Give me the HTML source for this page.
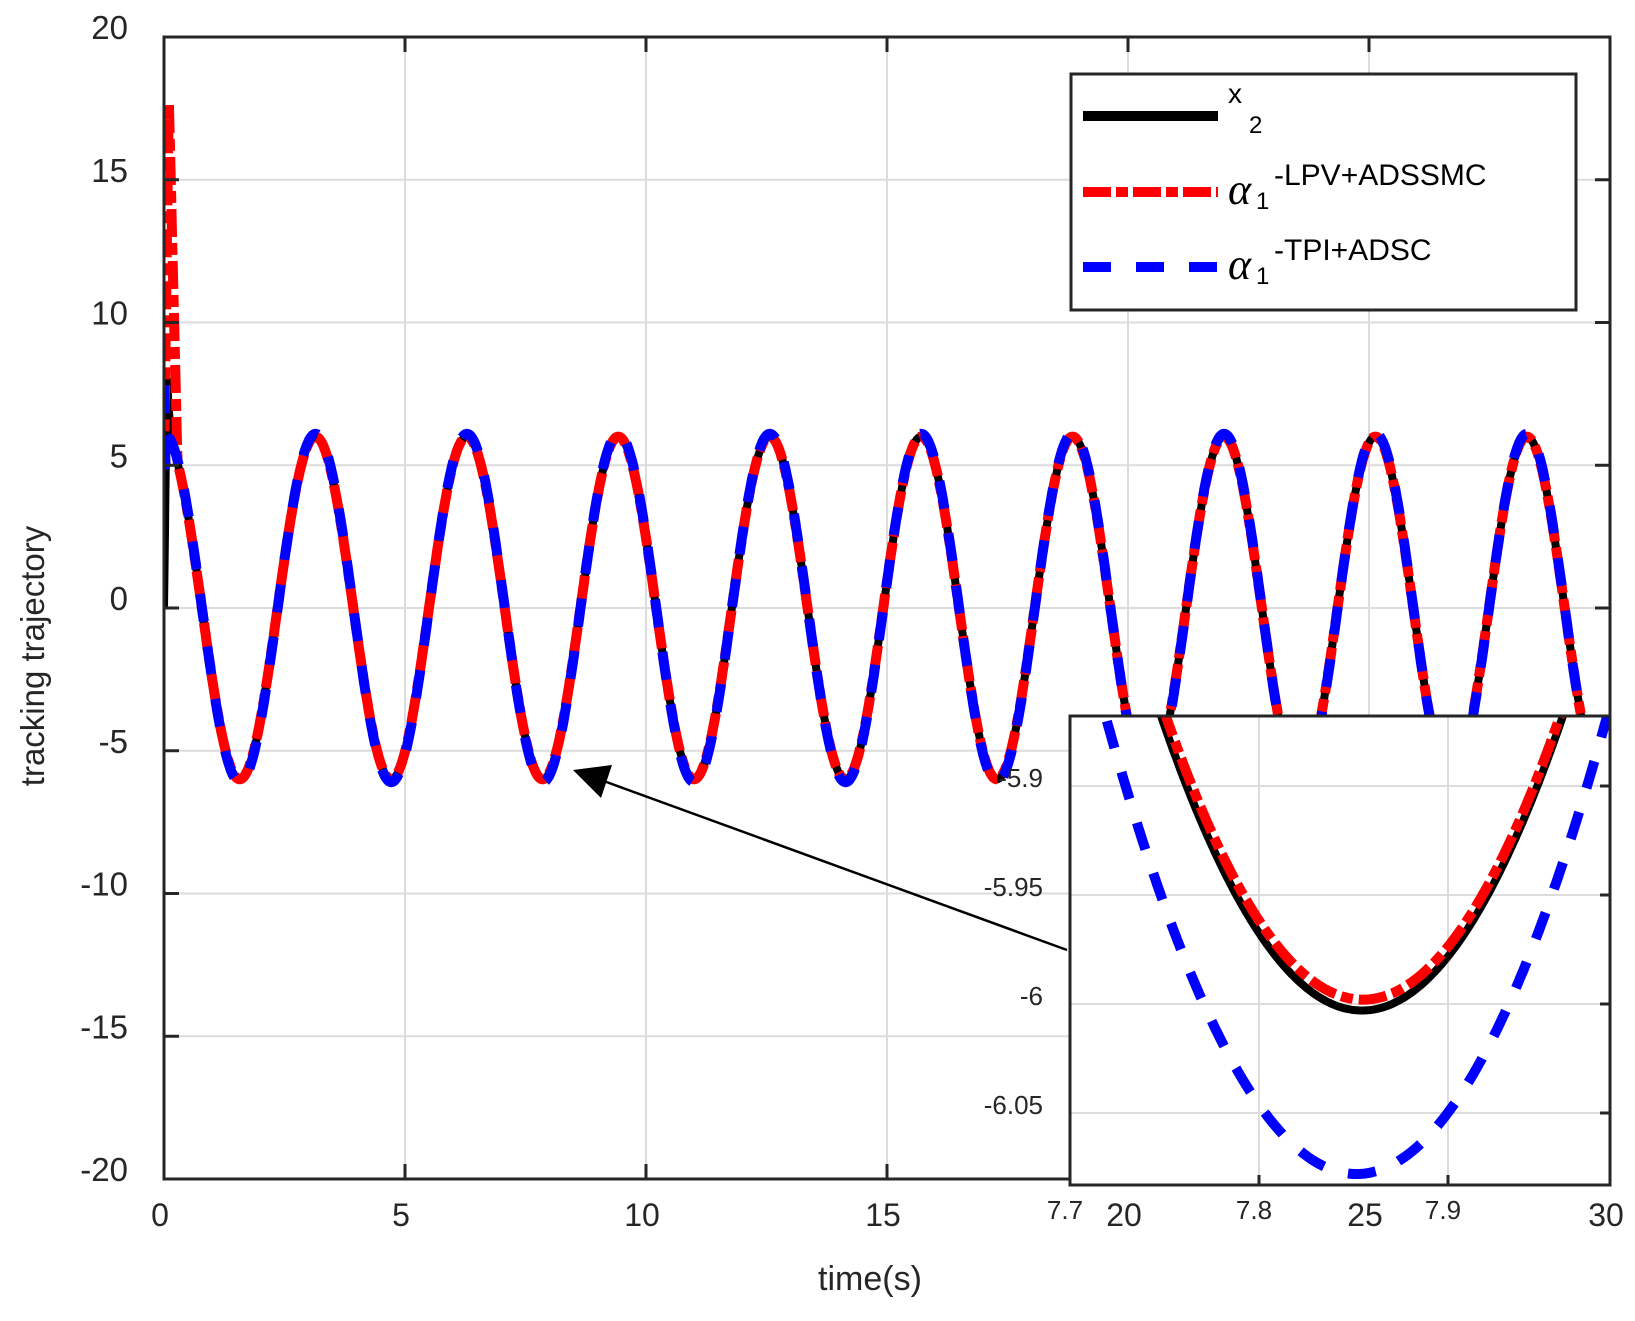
<!DOCTYPE html>
<html><head><meta charset="utf-8"><style>
html,body{margin:0;padding:0;background:#fff;}
svg text{font-family:"Liberation Sans",Arial,sans-serif;fill:#262626;}
</style></head><body>
<svg id="s" width="1635" height="1316" xmlns="http://www.w3.org/2000/svg">
<defs>
<clipPath id="cm"><rect x="164" y="37" width="1446" height="1142"/></clipPath>
<clipPath id="ci"><rect x="1070" y="716" width="540" height="469"/></clipPath>
</defs>
<rect width="1635" height="1316" fill="#fff"/>
<g id="main"></g>
<g id="inset"></g>
</svg>
<script>
const NS="http://www.w3.org/2000/svg";
function el(p,tag,a,txt){const e=document.createElementNS(NS,tag);for(const k in a)e.setAttribute(k,a[k]);if(txt!==undefined)e.textContent=txt;p.appendChild(e);return e;}
const M=document.getElementById('main'),I=document.getElementById('inset');
const L=164,R=1610,T=37,B=1179;
const X=t=>L+(R-L)*t/30, Y=v=>608-28.55*v;
for(let t=5;t<30;t+=5)el(M,'line',{x1:X(t),x2:X(t),y1:T,y2:B,stroke:'#dcdcdc','stroke-width':2});
for(let v=-15;v<20;v+=5)el(M,'line',{x1:L,x2:R,y1:Y(v),y2:Y(v),stroke:'#dcdcdc','stroke-width':2});
function path(f,t0,t1,n){let d='';for(let i=0;i<=n;i++){const t=t0+(t1-t0)*i/n;d+=(i?'L':'M')+X(t).toFixed(1)+','+Y(f(t)).toFixed(1);}return d;}
function blk(t){if(t<0.06)return 8*t/0.06; if(t<0.15)return 8-(8-6*Math.cos(0.3))*(t-0.06)/0.09; return 6*Math.cos(2*t);}
function red(t){if(t<0.1)return 5+12.8*t/0.1; if(t<0.28)return 17.8-(17.8-6*Math.cos(0.56))*(t-0.1)/0.18; return 6*Math.cos(2*t)+0.002;}
function blu(t){if(t<0.03)return 7.8-2.8*t/0.03; if(t<0.12)return 5+ (6.1*Math.cos(0.24)-5)*(t-0.03)/0.09; return 6.1*Math.cos(2*t-0.005);}
const gM=el(M,'g',{'clip-path':'url(#cm)',fill:'none','stroke-linejoin':'round'});
el(gM,'path',{d:path(blk,0,30,3000),stroke:'#000','stroke-width':8});
el(gM,'path',{d:path(red,0,30.5,3000),stroke:'#ff0000','stroke-width':10,'stroke-dasharray':'28 6 12 6'});
el(gM,'path',{d:path(blu,0,30.5,3000),stroke:'#0000ff','stroke-width':10,'stroke-dasharray':'28 25'});
el(M,'rect',{x:L,y:T,width:R-L,height:B-T,fill:'none',stroke:'#262626','stroke-width':3});
for(let t=0;t<=30;t+=5){el(M,'line',{x1:X(t),x2:X(t),y1:B,y2:B-15,stroke:'#262626','stroke-width':3});el(M,'line',{x1:X(t),x2:X(t),y1:T,y2:T+15,stroke:'#262626','stroke-width':3});
 el(M,'text',{x:X(t)-4,y:1226,'font-size':32,'text-anchor':'middle'},String(t));}
for(let v=-20;v<=20;v+=5){el(M,'line',{x1:L,x2:L+15,y1:Y(v),y2:Y(v),stroke:'#262626','stroke-width':3});el(M,'line',{x1:R,x2:R-15,y1:Y(v),y2:Y(v),stroke:'#262626','stroke-width':3});
 el(M,'text',{x:128,y:Y(v)+2,'font-size':33,'text-anchor':'end'},String(v));}
el(M,'text',{x:870,y:1290,'font-size':34,'text-anchor':'middle'},'time(s)');
el(M,'text',{x:0,y:0,'font-size':33,'text-anchor':'middle',transform:'translate(44,656) rotate(-90)'},'tracking trajectory');
el(M,'rect',{x:1071,y:74,width:505,height:236,fill:'#fff',stroke:'#262626','stroke-width':3});
el(M,'line',{x1:1083,x2:1218,y1:116,y2:116,stroke:'#000','stroke-width':10});
el(M,'line',{x1:1083,x2:1218,y1:192,y2:192,stroke:'#ff0000','stroke-width':10,'stroke-dasharray':'28 5 12 5'});
el(M,'line',{x1:1083,x2:1218,y1:267,y2:267,stroke:'#0000ff','stroke-width':10,'stroke-dasharray':'28 25'});
el(M,'text',{x:1228,y:103,'font-size':28,style:'fill:#000'},'x');
el(M,'text',{x:1249,y:133,'font-size':24,style:'fill:#000'},'2');
for(const [y,lab] of [[192,'-LPV+ADSSMC'],[267,'-TPI+ADSC']]){
 el(M,'text',{x:1228,y:y+12,'font-size':44,'font-style':'italic',style:'font-family:"Liberation Serif",serif;fill:#000'},'α');
 el(M,'text',{x:1256,y:y+17,'font-size':24,style:'fill:#000'},'1');
 el(M,'text',{x:1274,y:y-7,'font-size':30,style:'fill:#000'},lab);}
el(M,'line',{x1:1067,x2:590,y1:950,y2:776,stroke:'#000','stroke-width':2.5});
el(M,'polygon',{points:'573,770 612,765 601,798',fill:'#000'});
const iL=1070,iR=1610,iT=716,iB=1185;
const IX=t=>iL+(t-7.7)*1890, IY=v=>1004-(v+6)*2180;
el(I,'rect',{x:iL,y:iT,width:iR-iL,height:iB-iT,fill:'#fff'});
for(const t of [7.8,7.9])el(I,'line',{x1:IX(t),x2:IX(t),y1:iT,y2:iB,stroke:'#dcdcdc','stroke-width':2});
for(const v of [-5.9,-5.95,-6,-6.05])el(I,'line',{x1:iL,x2:iR,y1:IY(v),y2:IY(v),stroke:'#dcdcdc','stroke-width':2});
function ip(A,t0,c){let d='';for(let i=0;i<=400;i++){const t=7.68+0.33*i/400;d+=(i?'L':'M')+IX(t).toFixed(1)+','+IY(-A*Math.cos(2*(t-t0))+c).toFixed(1);}return d;}
const gI=el(I,'g',{'clip-path':'url(#ci)',fill:'none'});
el(gI,'path',{d:ip(6.0,7.8545,-0.003),stroke:'#000','stroke-width':8});
el(gI,'path',{d:ip(6.0,7.855,0.002),stroke:'#ff0000','stroke-width':10,'stroke-dasharray':'28 6 12 6'});
el(gI,'path',{d:ip(6.0,7.8515,-0.078),stroke:'#0000ff','stroke-width':10,'stroke-dasharray':'28 25'});
el(I,'rect',{x:iL,y:iT,width:iR-iL,height:iB-iT,fill:'none',stroke:'#262626','stroke-width':3});
for(const t of [7.7,7.8,7.9]){el(I,'line',{x1:IX(t),x2:IX(t),y1:iB,y2:iB-10,stroke:'#262626','stroke-width':3});
 el(I,'text',{x:IX(t)-5,y:1219,'font-size':26,'text-anchor':'middle'},String(t));}
for(const v of [-5.9,-5.95,-6,-6.05]){el(I,'line',{x1:iR,x2:iR-10,y1:IY(v),y2:IY(v),stroke:'#262626','stroke-width':3});
 el(I,'text',{x:1043,y:IY(v)+1,'font-size':26,'text-anchor':'end'},String(v));}
</script>
</body></html>
